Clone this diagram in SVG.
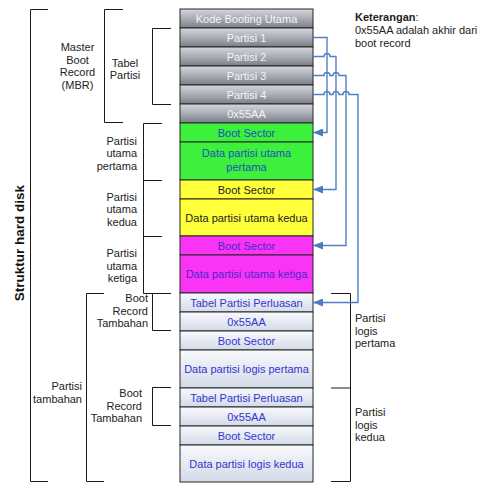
<svg xmlns="http://www.w3.org/2000/svg" width="496" height="493" viewBox="0 0 496 493">
<defs>
<linearGradient id="gGray" x1="0" y1="0" x2="0" y2="1">
<stop offset="0" stop-color="#d4d6dc"/>
<stop offset="0.55" stop-color="#a6a9b1"/>
<stop offset="1" stop-color="#7a7d86"/>
</linearGradient>
<linearGradient id="gLight" x1="0" y1="0" x2="0" y2="1">
<stop offset="0" stop-color="#f8f9fc"/>
<stop offset="1" stop-color="#d3dbe9"/>
</linearGradient>
<marker id="ah" markerWidth="10" markerHeight="8" refX="10" refY="4" orient="auto" markerUnits="userSpaceOnUse">
<path d="M0,0 L10,4 L0,8 z" fill="#4a7cc0"/>
</marker>
<style>
text{font-family:"Liberation Sans",Arial,sans-serif;font-size:11px}
.cell{stroke:#262626;stroke-width:1}
.gray{fill:url(#gGray)}
.light{fill:url(#gLight)}
.ct{text-anchor:middle}
.tw{fill:#f4f4f4}
.tb{fill:#3434cc}
.tg{fill:#1f4fc0}
.tk{fill:#1c1c1c}
.tm{fill:#4828cc}
.lbl{fill:#222}
.br{fill:none;stroke:#1a1a1a;stroke-width:1}
.cn{fill:none;stroke:#4f80c1;stroke-width:1.4;marker-end:url(#ah)}
</style>
</defs>
<rect width="496" height="493" fill="#fff"/>

<g id="cells">
<g id="kode"><rect class="cell gray" x="180" y="9" width="133" height="19"/><text class="ct tw" x="246.5" y="22.5">Kode Booting Utama</text></g>
<g id="p1"><rect class="cell gray" x="180" y="28" width="133" height="19"/><text class="ct tw" x="246.5" y="41.5">Partisi 1</text></g>
<g id="p2"><rect class="cell gray" x="180" y="47" width="133" height="19"/><text class="ct tw" x="246.5" y="60.5">Partisi 2</text></g>
<g id="p3"><rect class="cell gray" x="180" y="66" width="133" height="19"/><text class="ct tw" x="246.5" y="79.5">Partisi 3</text></g>
<g id="p4"><rect class="cell gray" x="180" y="85" width="133" height="19"/><text class="ct tw" x="246.5" y="98.5">Partisi 4</text></g>
<g id="sig0"><rect class="cell gray" x="180" y="104" width="133" height="19"/><text class="ct tw" x="246.5" y="117.5">0x55AA</text></g>
<g id="bs1"><rect class="cell" fill="#3cf03c" x="180" y="123" width="133" height="19"/><text class="ct tg" x="246.5" y="136.5">Boot Sector</text></g>
<g id="d1"><rect class="cell" fill="#3cf03c" x="180" y="142" width="133" height="38"/><text class="ct tg" x="246.5" y="157">Data partisi utama</text><text class="ct tg" x="246.5" y="171">pertama</text></g>
<g id="bs2"><rect class="cell" fill="#ffff3a" x="180" y="180" width="133" height="19"/><text class="ct tk" x="246.5" y="193.5">Boot Sector</text></g>
<g id="d2"><rect class="cell" fill="#ffff3a" x="180" y="199" width="133" height="37"/><text class="ct tk" x="246.5" y="221.5">Data partisi utama kedua</text></g>
<g id="bs3"><rect class="cell" fill="#fa34f4" x="180" y="236" width="133" height="19"/><text class="ct tm" x="246.5" y="249.5">Boot Sector</text></g>
<g id="d3"><rect class="cell" fill="#fa34f4" x="180" y="255" width="133" height="38"/><text class="ct tm" x="246.5" y="278">Data partisi utama ketiga</text></g>
<g id="tpp1"><rect class="cell light" x="180" y="293" width="133" height="19"/><text class="ct tb" x="246.5" y="306.5">Tabel Partisi Perluasan</text></g>
<g id="sig1"><rect class="cell light" x="180" y="312" width="133" height="19"/><text class="ct tb" x="246.5" y="325.5">0x55AA</text></g>
<g id="bs4"><rect class="cell light" x="180" y="331" width="133" height="19"/><text class="ct tb" x="246.5" y="344.5">Boot Sector</text></g>
<g id="d4"><rect class="cell light" x="180" y="350" width="133" height="38"/><text class="ct tb" x="246.5" y="373">Data partisi logis pertama</text></g>
<g id="tpp2"><rect class="cell light" x="180" y="388" width="133" height="19"/><text class="ct tb" x="246.5" y="401.5">Tabel Partisi Perluasan</text></g>
<g id="sig2"><rect class="cell light" x="180" y="407" width="133" height="19"/><text class="ct tb" x="246.5" y="420.5">0x55AA</text></g>
<g id="bs5"><rect class="cell light" x="180" y="426" width="133" height="19"/><text class="ct tb" x="246.5" y="439.5">Boot Sector</text></g>
<g id="d5"><rect class="cell light" x="180" y="445" width="133" height="37"/><text class="ct tb" x="246.5" y="467.5">Data partisi logis kedua</text></g>
</g>

<g id="struktur"><path class="br" d="M48,9.5 H30.5 V481.5 H48"/><text x="0" y="0" transform="translate(24,243) rotate(-90)" style="font-size:13.5px;font-weight:bold;text-anchor:middle" fill="#111">Struktur hard disk</text></g>
<g id="mbr"><path class="br" d="M123,9.5 H104.5 V122.5 H123"/><text class="lbl ct" x="77.5" y="51">Master</text><text class="lbl ct" x="77.5" y="63.5">Boot</text><text class="lbl ct" x="77.5" y="76">Record</text><text class="lbl ct" x="77.5" y="88.5">(MBR)</text></g>
<g id="tabel"><path class="br" d="M171,28.5 H152.5 V104.5 H171"/><text class="lbl ct" x="125" y="66.5">Tabel</text><text class="lbl ct" x="125" y="79">Partisi</text></g>
<g id="utama"><path class="br" d="M162,123.5 H143.5 V293.5 H162 M143.5,180.5 H162 M143.5,236.5 H162"/>
<text class="lbl" text-anchor="end" x="137" y="144.5">Partisi</text><text class="lbl" text-anchor="end" x="137" y="157">utama</text><text class="lbl" text-anchor="end" x="137" y="169.5">pertama</text>
<text class="lbl" text-anchor="end" x="137" y="200.5">Partisi</text><text class="lbl" text-anchor="end" x="137" y="213">utama</text><text class="lbl" text-anchor="end" x="137" y="225.5">kedua</text>
<text class="lbl" text-anchor="end" x="137" y="257">Partisi</text><text class="lbl" text-anchor="end" x="137" y="269.5">utama</text><text class="lbl" text-anchor="end" x="137" y="282">ketiga</text></g>
<g id="brt1"><path class="br" d="M171,293.5 H152.5 V330.5 H171"/><text class="lbl" text-anchor="end" x="148" y="302">Boot</text><text class="lbl" text-anchor="end" x="148" y="314.5">Record</text><text class="lbl" text-anchor="end" x="148" y="327">Tambahan</text></g>
<g id="brt2"><path class="br" d="M171,387.5 H152.5 V425.5 H171"/><text class="lbl" text-anchor="end" x="142" y="397">Boot</text><text class="lbl" text-anchor="end" x="142" y="409.5">Record</text><text class="lbl" text-anchor="end" x="142" y="422">Tambahan</text></g>
<g id="tambahan"><path class="br" d="M104,293.5 H86.5 V481.5 H104"/><text class="lbl" text-anchor="end" x="82" y="390">Partisi</text><text class="lbl" text-anchor="end" x="82" y="402.5">tambahan</text></g>
<g id="logis"><path class="br" d="M331,293.5 H350.5 V481.5 H331 M331,388 H350.5"/>
<text class="lbl" x="355" y="322">Partisi</text><text class="lbl" x="355" y="334.5">logis</text><text class="lbl" x="355" y="347">pertama</text>
<text class="lbl" x="355" y="416">Partisi</text><text class="lbl" x="355" y="428.5">logis</text><text class="lbl" x="355" y="441">kedua</text></g>
<g id="keterangan"><text class="lbl" x="355" y="21"><tspan style="font-weight:bold">Keterangan</tspan>:</text><text class="lbl" x="355" y="34">0x55AA adalah akhir dari</text><text class="lbl" x="355" y="47">boot record</text></g>

<g id="connectors">
<path class="cn" d="M313,37.5 H327 V132.5 H313"/>
<path class="cn" d="M313,56.5 H324 A3,3 0 0 1 330,56.5 H336 V189.5 H313"/>
<path class="cn" d="M313,75.5 H324 A3,3 0 0 1 330,75.5 H333 A3,3 0 0 1 339,75.5 H346 V245.5 H313"/>
<path class="cn" d="M313,94.5 H324 A3,3 0 0 1 330,94.5 H333 A3,3 0 0 1 339,94.5 H343 A3,3 0 0 1 349,94.5 H358 V302.5 H313"/>
</g>
</svg>
